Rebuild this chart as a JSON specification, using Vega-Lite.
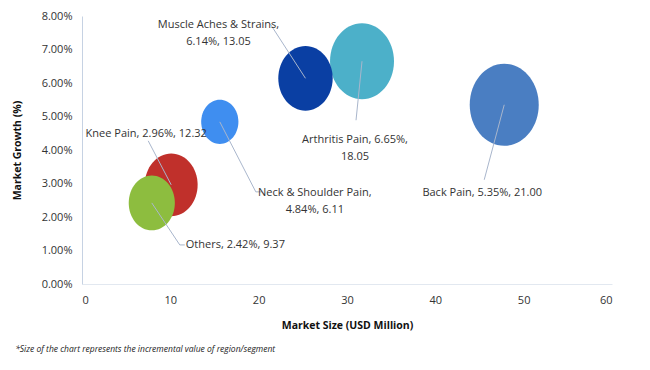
{
  "$schema": "https://vega.github.io/schema/vega-lite/v6.json",
  "width": 530,
  "height": 268,
  "autosize": {"type": "none"},
  "padding": {"left": 82, "top": 16, "right": 38, "bottom": 86},
  "background": "white",
  "config": {"view": {"stroke": null}, "font": "Open Sans"},
  "title": {
    "text": "*Size of the chart represents the incremental value of region/segment",
    "orient": "bottom",
    "anchor": "start",
    "frame": "bounds",
    "fontSize": 8.5,
    "fontStyle": "italic",
    "fontWeight": "normal",
    "color": "#222",
    "offset": 14,
    "dx": 3
  },
  "data": {
    "values": [
      {"name": "Back Pain", "market_size": 47.8, "growth": 5.35, "incr": 21.0, "label": "Back Pain, 5.35%, 21.00"},
      {"name": "Arthritis Pain", "market_size": 31.7, "growth": 6.65, "incr": 18.05, "label": "Arthritis Pain, 6.65%,\n18.05"},
      {"name": "Muscle Aches & Strains", "market_size": 25.3, "growth": 6.14, "incr": 13.05, "label": "Muscle Aches & Strains,\n6.14%, 13.05"},
      {"name": "Neck & Shoulder Pain", "market_size": 15.6, "growth": 4.84, "incr": 6.11, "label": "Neck & Shoulder Pain,\n4.84%, 6.11"},
      {"name": "Knee Pain", "market_size": 10.1, "growth": 2.96, "incr": 12.32, "label": "Knee Pain, 2.96%, 12.32"},
      {"name": "Others", "market_size": 7.9, "growth": 2.42, "incr": 9.37, "label": "Others, 2.42%, 9.37"}
    ]
  },
  "encoding": {
    "x": {
      "field": "market_size", "type": "quantitative",
      "scale": {"domain": [0, 60], "nice": false},
      "axis": {
        "values": [0, 10, 20, 30, 40, 50, 60],
        "title": "Market Size (USD Million)",
        "titleFontSize": 10.5, "titleFontWeight": "bold", "titleColor": "#111",
        "titlePadding": 15,
        "labelFontSize": 11, "labelColor": "#333", "labelPadding": 10,
        "ticks": false, "grid": false,
        "domainColor": "#e2e8f0"
      }
    },
    "y": {
      "field": "growth", "type": "quantitative",
      "scale": {"domain": [0, 8], "nice": false},
      "axis": {
        "values": [0, 1, 2, 3, 4, 5, 6, 7, 8],
        "labelExpr": "format(datum.value, '.2f') + '%'",
        "title": "Market Growth (%)",
        "titleFontSize": 10.5, "titleFontWeight": "bold", "titleColor": "#111",
        "titlePadding": 19,
        "labelFontSize": 11, "labelColor": "#333", "labelPadding": 10,
        "ticks": false, "grid": false,
        "domainColor": "#c6d2e3"
      }
    }
  },
  "layer": [
    {
      "mark": {"type": "point", "filled": true, "opacity": 1, "strokeWidth": 0, "shape": "M-1,0A1,1.19,0,1,0,1,0A1,1.19,0,1,0,-1,0Z"},
      "encoding": {
        "size": {"field": "incr", "type": "quantitative", "scale": {"domain": [0, 21], "range": [0, 4761]}, "legend": null},
        "color": {
          "field": "name", "type": "nominal",
          "scale": {
            "domain": ["Back Pain", "Arthritis Pain", "Muscle Aches & Strains", "Neck & Shoulder Pain", "Knee Pain", "Others"],
            "range": ["#4a7ec2", "#4cb0c9", "#0a3fa3", "#3f8ef0", "#c0302b", "#8dbd3f"]
          },
          "legend": null
        }
      }
    },
    {
      "transform": [{"filter": "datum.name === 'Muscle Aches & Strains'"}],
      "mark": {"type": "rule", "color": "#a9b6cc", "strokeWidth": 1, "x2Offset": -35, "y2Offset": -54},
      "encoding": {"x2": {"field": "market_size"}, "y2": {"field": "growth"}}
    },
    {
      "transform": [{"filter": "datum.name === 'Arthritis Pain'"}],
      "mark": {"type": "rule", "color": "#a9b6cc", "strokeWidth": 1, "x2Offset": -6, "y2Offset": 59},
      "encoding": {"x2": {"field": "market_size"}, "y2": {"field": "growth"}}
    },
    {
      "transform": [{"filter": "datum.name === 'Back Pain'"}],
      "mark": {"type": "rule", "color": "#a9b6cc", "strokeWidth": 1, "x2Offset": -20, "y2Offset": 75},
      "encoding": {"x2": {"field": "market_size"}, "y2": {"field": "growth"}}
    },
    {
      "transform": [{"filter": "datum.name === 'Neck & Shoulder Pain'"}],
      "mark": {"type": "rule", "color": "#a9b6cc", "strokeWidth": 1, "x2Offset": 36, "y2Offset": 70},
      "encoding": {"x2": {"field": "market_size"}, "y2": {"field": "growth"}}
    },
    {
      "transform": [{"filter": "datum.name === 'Neck & Shoulder Pain'"}],
      "mark": {"type": "rule", "color": "#a9b6cc", "strokeWidth": 1, "xOffset": 36, "yOffset": 70, "x2Offset": 42, "y2Offset": 70},
      "encoding": {"x2": {"field": "market_size"}, "y2": {"field": "growth"}}
    },
    {
      "transform": [{"filter": "datum.name === 'Knee Pain'"}],
      "mark": {"type": "rule", "color": "#a9b6cc", "strokeWidth": 1, "x2Offset": -23, "y2Offset": -44},
      "encoding": {"x2": {"field": "market_size"}, "y2": {"field": "growth"}}
    },
    {
      "transform": [{"filter": "datum.name === 'Others'"}],
      "mark": {"type": "rule", "color": "#a9b6cc", "strokeWidth": 1, "x2Offset": 28, "y2Offset": 42},
      "encoding": {"x2": {"field": "market_size"}, "y2": {"field": "growth"}}
    },
    {
      "transform": [{"filter": "datum.name === 'Others'"}],
      "mark": {"type": "rule", "color": "#a9b6cc", "strokeWidth": 1, "xOffset": 28, "yOffset": 42, "x2Offset": 33, "y2Offset": 42},
      "encoding": {"x2": {"field": "market_size"}, "y2": {"field": "growth"}}
    },
    {
      "transform": [{"filter": "datum.name === 'Muscle Aches & Strains'"}],
      "mark": {"type": "text", "fontSize": 11, "color": "#333", "align": "center", "baseline": "middle", "lineBreak": "\n", "lineHeight": 17, "dx": -87, "dy": -53},
      "encoding": {"text": {"field": "label"}}
    },
    {
      "transform": [{"filter": "datum.name === 'Arthritis Pain'"}],
      "mark": {"type": "text", "fontSize": 11, "color": "#333", "align": "center", "baseline": "middle", "lineBreak": "\n", "lineHeight": 17, "dx": -7, "dy": 79},
      "encoding": {"text": {"field": "label"}}
    },
    {
      "transform": [{"filter": "datum.name === 'Back Pain'"}],
      "mark": {"type": "text", "fontSize": 11, "color": "#333", "align": "center", "baseline": "middle", "dx": -22, "dy": 88},
      "encoding": {"text": {"field": "label"}}
    },
    {
      "transform": [{"filter": "datum.name === 'Neck & Shoulder Pain'"}],
      "mark": {"type": "text", "fontSize": 11, "color": "#333", "align": "center", "baseline": "middle", "lineBreak": "\n", "lineHeight": 17, "dx": 95, "dy": 71},
      "encoding": {"text": {"field": "label"}}
    },
    {
      "transform": [{"filter": "datum.name === 'Knee Pain'"}],
      "mark": {"type": "text", "fontSize": 11, "color": "#333", "align": "center", "baseline": "middle", "dx": -25, "dy": -51},
      "encoding": {"text": {"field": "label"}}
    },
    {
      "transform": [{"filter": "datum.name === 'Others'"}],
      "mark": {"type": "text", "fontSize": 11, "color": "#333", "align": "left", "baseline": "middle", "dx": 34, "dy": 42},
      "encoding": {"text": {"field": "label"}}
    }
  ]
}
